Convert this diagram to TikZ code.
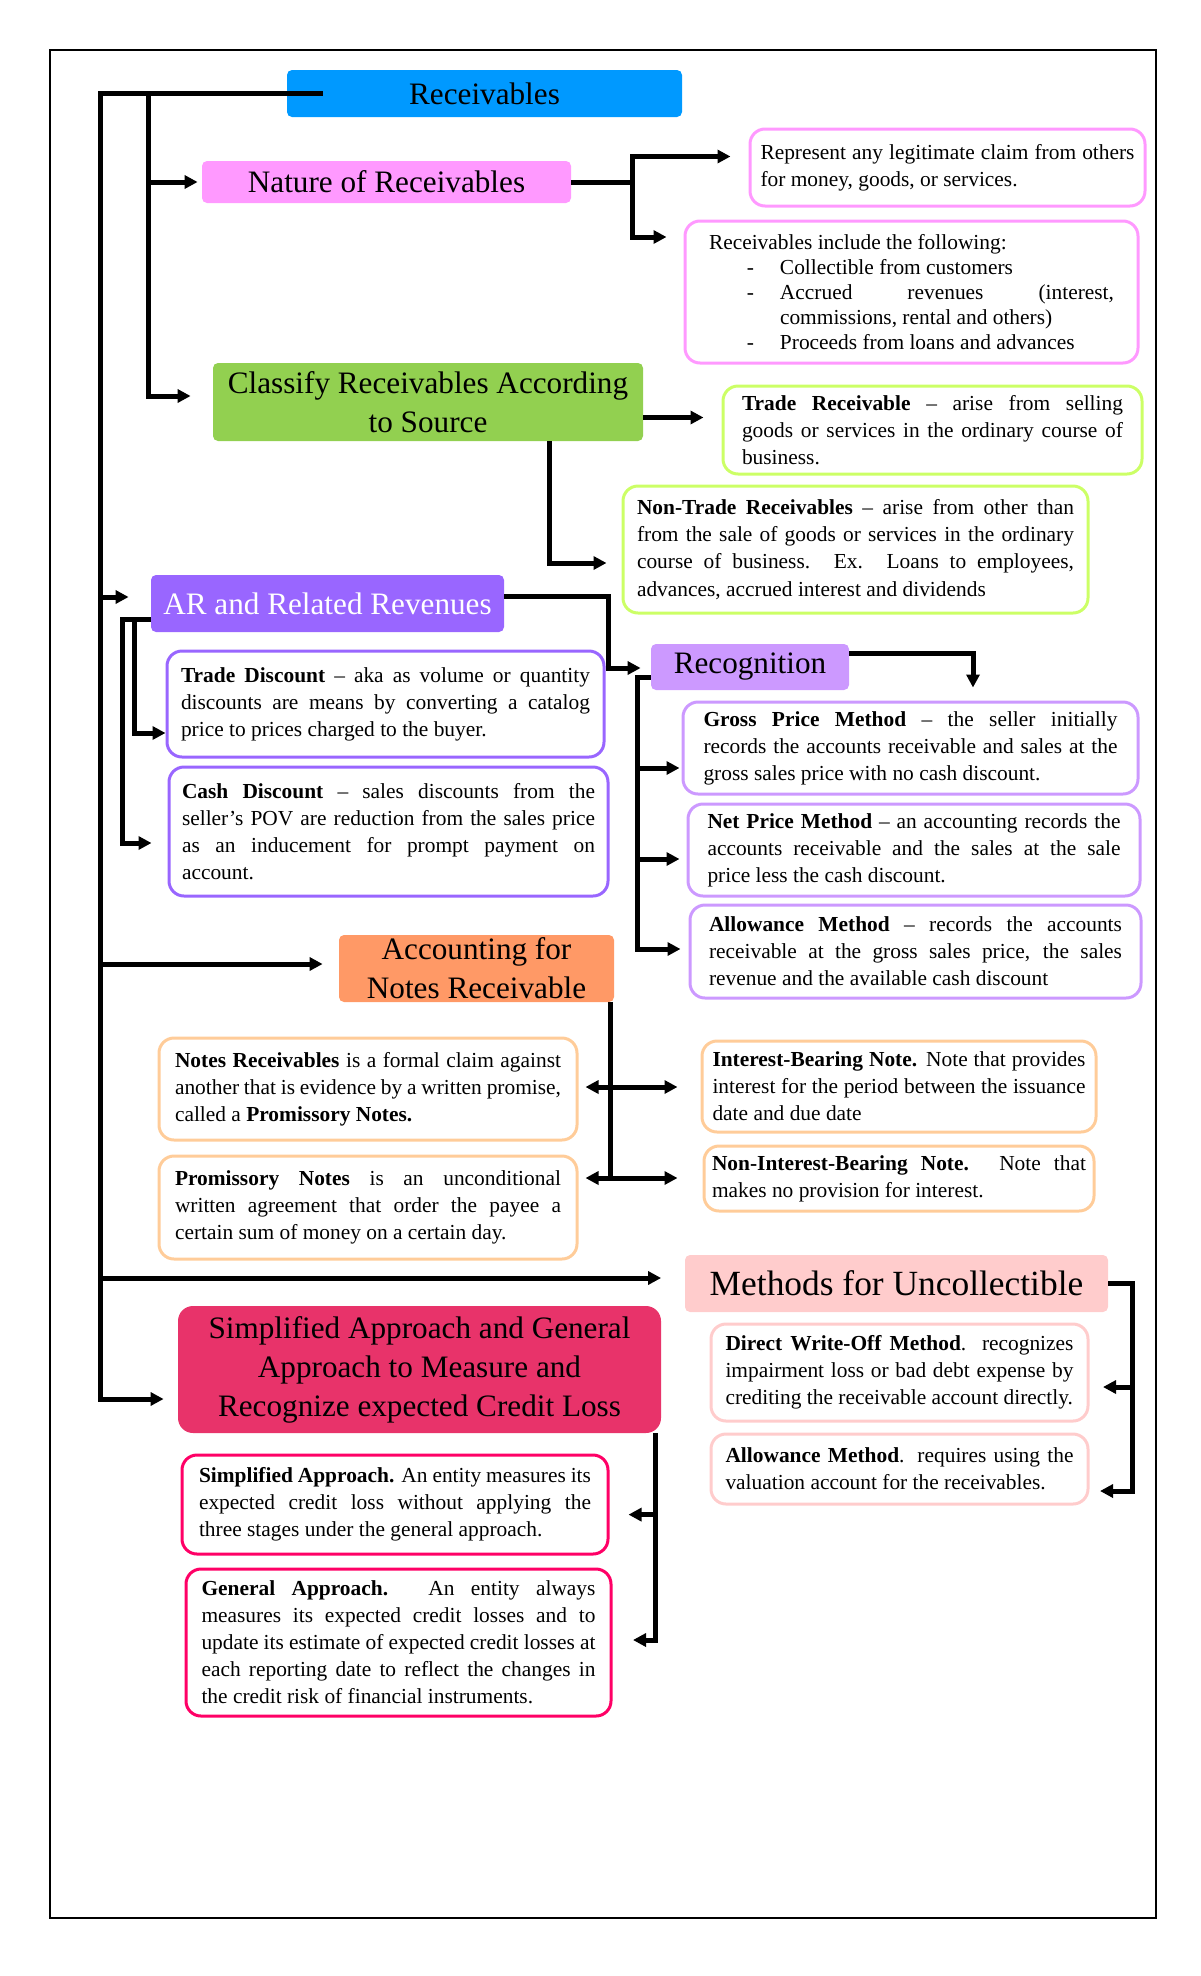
\documentclass[tikz,border=0pt]{standalone}
\usepackage{fontspec}
\setmainfont{Liberation Serif}
\usetikzlibrary{arrows.meta,calc}
\definecolor{recvblue}{RGB}{0,153,255}
\definecolor{naturepink}{RGB}{255,153,255}
\definecolor{classgreen}{RGB}{146,208,80}
\definecolor{tradegreen}{RGB}{204,255,102}
\definecolor{arpurple}{RGB}{153,102,255}
\definecolor{recoglilac}{RGB}{204,153,255}
\definecolor{acctorange}{RGB}{255,153,102}
\definecolor{notepeach}{RGB}{255,204,153}
\definecolor{methrose}{RGB}{255,204,204}
\definecolor{simpcrimson}{RGB}{232,51,106}
\definecolor{apprred}{RGB}{255,0,102}
\newcommand{\bodyfont}{\fontsize{10.7pt}{13.55pt}\selectfont\hyphenpenalty=10000\tolerance=9999}
\newcommand{\listfont}{\fontsize{10.7pt}{12.6pt}\selectfont\hyphenpenalty=10000\tolerance=9999}
\newcommand{\headfont}{\fontsize{15.6pt}{19.5pt}\selectfont}
\newcommand{\bigheadfont}{\fontsize{17.7pt}{21pt}\selectfont}
\newcommand{\listdash}{\noindent\llap{-\hspace{13pt}}}
\begin{document}
\begin{tikzpicture}[x=0.5pt,y=-0.5pt]
    \tikzstyle{heading}=[rounded corners=2.5pt,inner sep=0pt,align=center,font=\headfont]
    \tikzstyle{notebox}=[draw,line width=1.5pt,rounded corners=7.5pt,fill=white,
                         align=justify,font=\bodyfont,inner ysep=1pt]
    \tikzstyle{link}=[line width=2.5pt]
    \tikzstyle{conn}=[link,-{Triangle[length=6.5pt,width=6.5pt]}]
    \tikzstyle{dconn}=[link,{Triangle[length=6.5pt,width=6.5pt]}-{Triangle[length=6.5pt,width=6.5pt]}]
    \useasboundingbox (0,0) rectangle (1200,1976);
    \draw[line width=0.8pt] (50,50) rectangle (1156,1918);
    % Place headings
    \node[heading,fill=recvblue,minimum width=197.5pt,minimum height=23.5pt] (recv) at (484.5,93.5) {Receivables};
    \node[heading,fill=naturepink,minimum width=184.5pt,minimum height=21pt] (nature) at (386.5,182) {Nature of Receivables};
    \node[heading,fill=classgreen,minimum width=215pt,minimum height=39pt] (classify) at (428,402) {Classify Receivables According\\to Source};
    \node[heading,fill=arpurple,text=white,minimum width=176.5pt,minimum height=28.5pt] (ar) at (327.5,603.5) {AR and Related Revenues};
    \node[heading,fill=recoglilac,minimum width=99pt,minimum height=23pt] (recog) at (750,667) {Recognition};
    \node[heading,fill=acctorange,minimum width=137.5pt,minimum height=33.5pt] (acct) at (476.5,968.5) {Accounting for\\Notes Receivable};
    \node[heading,fill=methrose,font=\bigheadfont,minimum width=211.5pt,minimum height=28.5pt] (meth) at (896.5,1283.5) {Methods for Uncollectible};
    \node[heading,fill=simpcrimson,rounded corners=7.5pt,minimum width=241.5pt,minimum height=63.5pt] (simp) at (419.5,1369.5) {Simplified Approach and General\\Approach to Measure and\\Recognize expected Credit Loss};
    % Place text boxes
    \node[notebox,draw=naturepink,text width=187pt,inner xsep=5.25pt,minimum height=38.5pt] (rep) at (947.5,167.5)
        {Represent any legitimate claim from others\linebreak for money, goods, or services.};
    \node[notebox,draw=naturepink,text width=202.5pt,inner xsep=12pt,minimum height=71pt,font=\listfont] (incl) at (911.5,292)
        {Receivables include the following:\par
         \leftskip=35.5pt
         \listdash Collectible from customers\par
         \listdash Accrued revenues (interest,\linebreak commissions, rental and others)\par
         \listdash Proceeds from loans and advances\par};
    \node[notebox,draw=tradegreen,text width=190.5pt,inner xsep=9.5pt,minimum height=44pt] (trade) at (932.5,430)
        {\textbf{Trade Receivable} -- arise from selling\linebreak goods or services in the ordinary course of\linebreak business.};
    \node[notebox,draw=tradegreen,text width=218.5pt,inner xsep=7pt,minimum height=63.5pt] (nontrade) at (855.5,549.5)
        {\textbf{Non-Trade Receivables} -- arise from other than\linebreak from the sale of goods or services in the ordinary\linebreak course of business. Ex. Loans to employees,\linebreak advances, accrued interest and dividends};
    \node[notebox,draw=arpurple,text width=204.5pt,inner xsep=7pt,minimum height=53pt] (tdisc) at (385.5,704)
        {\textbf{Trade Discount} -- aka as volume or quantity\linebreak discounts are means by converting a catalog\linebreak price to prices charged to the buyer.};
    \node[notebox,draw=arpurple,text width=206.5pt,inner xsep=6.5pt,minimum height=64.5pt] (cdisc) at (388.5,831.5)
        {\textbf{Cash Discount} -- sales discounts from the\linebreak seller’s POV are reduction from the sales price\linebreak as an inducement for prompt payment on\linebreak account.};
    \node[notebox,draw=recoglilac,text width=207pt,inner xsep=10.25pt,minimum height=46pt] (gross) at (910.5,748)
        {\textbf{Gross Price Method} -- the seller initially\linebreak records the accounts receivable and sales at the\linebreak gross sales price with no cash discount.};
    \node[notebox,draw=recoglilac,text width=206.5pt,inner xsep=9.75pt,minimum height=46pt] (net) at (914,850)
        {\textbf{Net Price Method} -- an accounting records the\linebreak accounts receivable and the sales at the sale\linebreak price less the cash discount.};
    \node[notebox,draw=recoglilac,text width=206.5pt,inner xsep=9.5pt,minimum height=46.5pt] (allow) at (915.5,951.5)
        {\textbf{Allowance Method} -- records the accounts\linebreak receivable at the gross sales price, the sales\linebreak revenue and the available cash discount};
    \node[notebox,draw=notepeach,text width=193pt,inner xsep=8pt,minimum height=51pt] (notes) at (368,1089)
        {\textbf{Notes Receivables} is a formal claim against\linebreak another that is evidence by a written promise,\linebreak called a \textbf{Promissory Notes.}};
    \node[notebox,draw=notepeach,text width=193pt,inner xsep=8pt,minimum height=51.5pt] (prom) at (368,1207.5)
        {\textbf{Promissory Notes} is an unconditional\linebreak written agreement that order the payee a\linebreak certain sum of money on a certain day.};
    \node[notebox,draw=notepeach,text width=186.5pt,inner xsep=5.25pt,minimum height=45.5pt] (intb) at (899,1086.5)
        {\textbf{Interest-Bearing Note.} Note that provides\linebreak interest for the period between the issuance\linebreak date and due date};
    \node[notebox,draw=notepeach,text width=187pt,inner xsep=4pt,minimum height=32.5pt] (nintb) at (899,1178.5)
        {\textbf{Non-Interest-Bearing Note.} Note that\linebreak makes no provision for interest.};
    \node[notebox,draw=methrose,text width=174pt,inner xsep=7.25pt,minimum height=48.5pt] (direct) at (899.5,1372.5)
        {\textbf{Direct Write-Off Method}. recognizes\linebreak impairment loss or bad debt expense by\linebreak crediting the receivable account directly.};
    \node[notebox,draw=methrose,text width=174pt,inner xsep=7.25pt,minimum height=35pt] (allowm) at (899.5,1469)
        {\textbf{Allowance Method}. requires using the\linebreak valuation account for the receivables.};
    \node[notebox,draw=apprred,text width=196pt,inner xsep=8.5pt,minimum height=49.5pt] (simpa) at (395,1504.5)
        {\textbf{Simplified Approach.} An entity measures its\linebreak expected credit loss without applying the\linebreak three stages under the general approach.};
    \node[notebox,draw=apprred,text width=197pt,inner xsep=7.75pt,minimum height=73.5pt] (gena) at (398.5,1642.5)
        {\textbf{General Approach.} An entity always\linebreak measures its expected credit losses and to\linebreak update its estimate of expected credit losses at\linebreak each reporting date to reflect the changes in\linebreak the credit risk of financial instruments.};
    % Main trunk
    \draw[conn,shorten >=7pt] ([xshift=18pt]recv.west) -- (100,93.5) -- (100,1399) -- (simp.west |- 0,1399);
    \foreach \y/\n/\sh in {597/ar/11pt,964/acct/8pt,1278/meth/11.75pt}
        \draw[conn,shorten >=\sh] (100,\y) -- (\n.west |- 0,\y);
    \draw[conn,shorten >=11pt] (148,93.5) -- (148,396) -- (classify.west |- 0,396);
    \draw[conn,shorten >=2pt] (148,0 |- nature.west) -- (nature.west);
    % Nature and classification
    \draw[link] (nature.east) -- (632,0 |- nature.east);
    \draw[dconn,shorten <=9pt,shorten >=8.5pt] (rep.west |- 0,156.5) -- (632,156.5) -- (632,237) -- (incl.west |- 0,237);
    \draw[conn,shorten >=9pt] (classify.east |- 0,417.5) -- (trade.west |- 0,417.5);
    \draw[conn,shorten >=7.5pt] (549,0 |- classify.south) -- (549,563) -- (nontrade.west |- 0,563);
    % AR and recognition
    \draw[conn,shorten >=5pt] (ar.east |- 0,596) -- (608,596) -- (608,668) -- (recog.west |- 0,668);
    \draw[conn,shorten >=6.5pt] (recog.east |- 0,653) -- (973,653) -- (973,0 |- gross.north);
    \draw[conn,shorten >=4pt] (recog.west |- 0,677) -- (637,677) -- (637,949) -- (allow.west |- 0,949);
    \foreach \y/\n/\sh in {768/gross/1pt,859/net/3.5pt}
        \draw[conn,shorten >=\sh] (637,\y) -- (\n.west |- 0,\y);
    \draw[conn,shorten >=8pt] (ar.west |- 0,619) -- (122,619) -- (122,843) -- (cdisc.west |- 0,843);
    \draw[conn] (134,619) -- (134,733) -- (tdisc.west |- 0,733);
    % Notes receivable
    \draw[link] (610,0 |- acct.south) -- (610,1178);
    \draw[dconn,shorten <=3.5pt,shorten >=11.5pt] (notes.east |- 0,1087) -- (intb.west |- 0,1087);
    \draw[dconn,shorten <=3.5pt,shorten >=12.5pt] (prom.east |- 0,1178) -- (nintb.west |- 0,1178);
    % Uncollectible and credit loss
    \draw[conn,shorten >=5.25pt] (meth.east |- 0,1283) -- (1132,1283) -- (1132,1491) -- (allowm.east |- 0,1491);
    \draw[conn,shorten >=6.75pt] (1132,1387) -- (direct.east |- 0,1387);
    \draw[conn,shorten >=10.25pt] (655,0 |- simp.south) -- (655,1640) -- (gena.east |- 0,1640);
    \draw[conn,shorten >=9.5pt] (655,1514.6) -- (simpa.east |- 0,1514.6);
\end{tikzpicture}
\end{document}
